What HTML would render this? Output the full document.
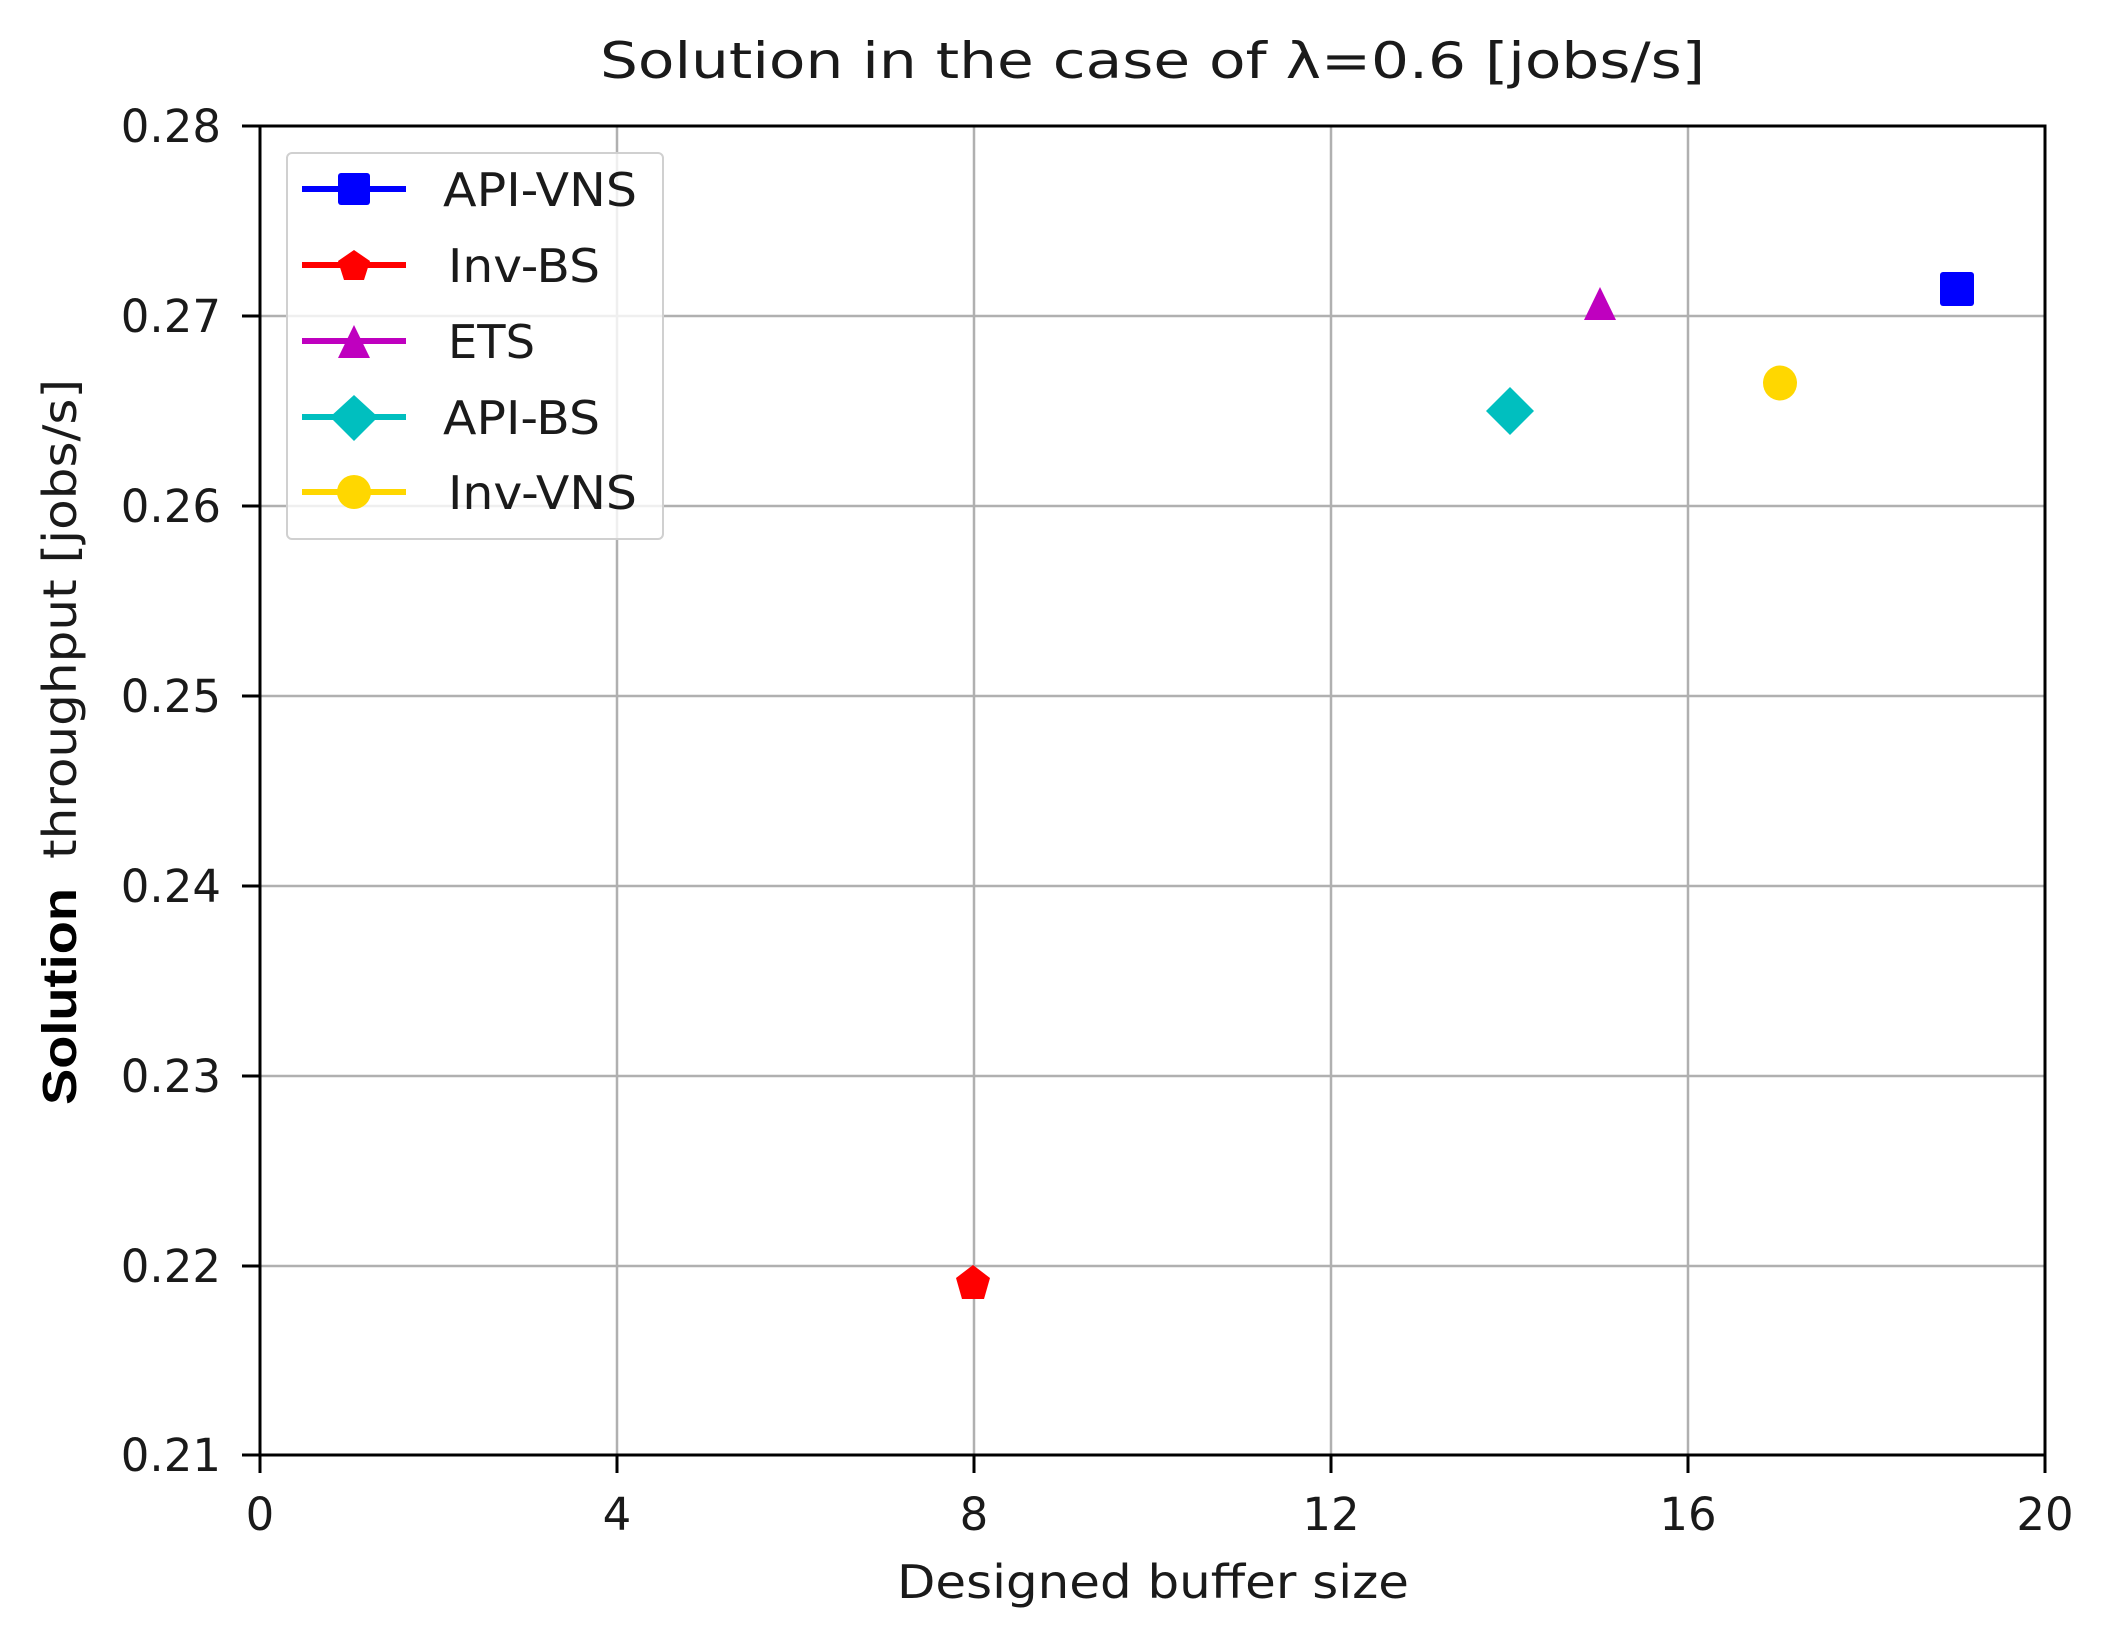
<!DOCTYPE html>
<html><head><meta charset="utf-8"><style>html,body{margin:0;padding:0;background:#fff}svg{display:block}</style></head>
<body>
<svg width="2104" height="1640" viewBox="0 0 2104 1640" xmlns="http://www.w3.org/2000/svg" font-family="DejaVu Sans, Liberation Sans, sans-serif">
<rect width="2104" height="1640" fill="#fff"/>
<g stroke="#b0b0b0" stroke-width="2.5">
<line x1="617" y1="126" x2="617" y2="1455"/>
<line x1="974" y1="126" x2="974" y2="1455"/>
<line x1="1331" y1="126" x2="1331" y2="1455"/>
<line x1="1688" y1="126" x2="1688" y2="1455"/>
<line x1="260" y1="316" x2="2045" y2="316"/>
<line x1="260" y1="506" x2="2045" y2="506"/>
<line x1="260" y1="696" x2="2045" y2="696"/>
<line x1="260" y1="886" x2="2045" y2="886"/>
<line x1="260" y1="1076" x2="2045" y2="1076"/>
<line x1="260" y1="1266" x2="2045" y2="1266"/>
</g>
<rect x="1940" y="272" width="34" height="34" rx="3" fill="#0000ff"/>
<polygon points="1600,287 1616,320 1584,320" fill="#bf00bf"/>
<polygon points="1510,387 1534,411 1510,435 1486,411" fill="#00bfbf"/>
<ellipse cx="1780" cy="383" rx="17" ry="17.5" fill="#ffd700"/>
<polygon points="973,1265 990,1278 984,1299 962,1299 956,1278" fill="#ff0000"/>
<rect x="287" y="153" width="376" height="386" rx="5" fill="#fff" fill-opacity="0.8" stroke="#d0d0d0" stroke-width="2"/>
<g stroke-width="6">
<line x1="302" y1="189" x2="406" y2="189" stroke="#0000ff"/>
<rect x="338" y="173" width="32" height="32" rx="3" fill="#0000ff"/>
<line x1="302" y1="265" x2="406" y2="265" stroke="#ff0000"/>
<polygon points="354,250 370,261 364,280 344,280 338,261" fill="#ff0000"/>
<line x1="302" y1="341" x2="406" y2="341" stroke="#bf00bf"/>
<polygon points="354,325 370,358 338,358" fill="#bf00bf"/>
<line x1="302" y1="417" x2="406" y2="417" stroke="#00bfbf"/>
<polygon points="354,395 378,417 354,441 330,417" fill="#00bfbf"/>
<line x1="302" y1="492" x2="406" y2="492" stroke="#ffd700"/>
<circle cx="354" cy="492" r="17" fill="#ffd700"/>
</g>
<g font-size="46" fill="#1a1a1a">
<text x="443" y="206" textLength="194" lengthAdjust="spacingAndGlyphs">API-VNS</text>
<text x="448" y="282" textLength="152" lengthAdjust="spacingAndGlyphs">Inv-BS</text>
<text x="448" y="358" textLength="87" lengthAdjust="spacingAndGlyphs">ETS</text>
<text x="443" y="434" textLength="157" lengthAdjust="spacingAndGlyphs">API-BS</text>
<text x="448" y="509" textLength="189" lengthAdjust="spacingAndGlyphs">Inv-VNS</text>
</g>
<rect x="260" y="126" width="1785" height="1329" fill="none" stroke="#000" stroke-width="3"/>
<g stroke="#000" stroke-width="3">
<line x1="242" y1="126" x2="260" y2="126"/><line x1="242" y1="316" x2="260" y2="316"/>
<line x1="242" y1="506" x2="260" y2="506"/><line x1="242" y1="696" x2="260" y2="696"/>
<line x1="242" y1="886" x2="260" y2="886"/><line x1="242" y1="1076" x2="260" y2="1076"/>
<line x1="242" y1="1266" x2="260" y2="1266"/><line x1="242" y1="1455" x2="260" y2="1455"/>
<line x1="260" y1="1455" x2="260" y2="1473"/><line x1="617" y1="1455" x2="617" y2="1473"/>
<line x1="974" y1="1455" x2="974" y2="1473"/><line x1="1331" y1="1455" x2="1331" y2="1473"/>
<line x1="1688" y1="1455" x2="1688" y2="1473"/><line x1="2045" y1="1455" x2="2045" y2="1473"/>
</g>
<g font-size="45" fill="#1a1a1a" text-anchor="end">
<text x="221" y="142">0.28</text><text x="221" y="332">0.27</text>
<text x="221" y="522">0.26</text><text x="221" y="712">0.25</text>
<text x="221" y="902">0.24</text><text x="221" y="1092">0.23</text>
<text x="221" y="1282">0.22</text><text x="221" y="1471">0.21</text>
</g>
<g font-size="45" fill="#1a1a1a" text-anchor="middle">
<text x="260" y="1530">0</text><text x="617" y="1530">4</text>
<text x="974" y="1530">8</text><text x="1331" y="1530">12</text>
<text x="1688" y="1530">16</text><text x="2045" y="1530">20</text>
</g>
<text x="897" y="1598" font-size="46" fill="#1a1a1a" textLength="512" lengthAdjust="spacingAndGlyphs">Designed buffer size</text>
<text x="600" y="78" font-size="50" fill="#1a1a1a" textLength="1105" lengthAdjust="spacingAndGlyphs">Solution in the case of λ=0.6 [jobs/s]</text>
<g transform="translate(76,0) rotate(-90)">
<text x="-1105" y="0" font-family="Liberation Sans, Arial, sans-serif" font-weight="bold" font-size="48" fill="#000" textLength="217" lengthAdjust="spacingAndGlyphs">Solution</text>
<text x="-859" y="0" font-size="46" fill="#1a1a1a" textLength="480" lengthAdjust="spacingAndGlyphs">throughput [jobs/s]</text>
</g>
</svg>
</body></html>
